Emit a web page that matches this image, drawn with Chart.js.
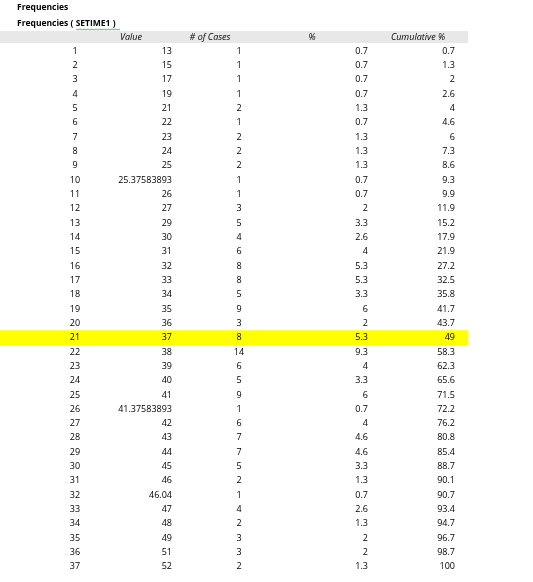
<!DOCTYPE html>
<html><head><meta charset="utf-8">
<script src="https://cdn.jsdelivr.net/npm/chart.js@4"></script>
<style>html,body{margin:0;padding:0;background:#fff}#w{width:533px;height:582px}</style>
</head><body><div id="w"><canvas id="c"></canvas></div>
<script>
const rowLabels = Array.from({length:37},(_,i)=>String(i+1));
const values = ["13","15","17","19","21","22","23","24","25","25.37583893","26","27","29","30","31","32","33","34","35","36","37","38","39","40","41","41.37583893","42","43","44","45","46","46.04","47","48","49","51","52"];
const cases = [1,1,1,1,2,1,2,2,2,1,1,3,5,4,6,8,8,5,9,3,8,14,6,5,9,1,6,7,7,5,2,1,4,2,3,3,2];
const pct = ["0.7","0.7","0.7","0.7","1.3","0.7","1.3","1.3","1.3","0.7","0.7","2","3.3","2.6","4","5.3","5.3","3.3","6","2","5.3","9.3","4","3.3","6","0.7","4","4.6","4.6","3.3","1.3","0.7","2.6","1.3","2","2","1.3"];
const cum = ["0.7","1.3","2","2.6","4","4.6","6","7.3","8.6","9.3","9.9","11.9","15.2","17.9","21.9","27.2","32.5","35.8","41.7","43.7","49","58.3","62.3","65.6","71.5","72.2","76.2","80.8","85.4","88.7","90.1","90.7","93.4","94.7","96.7","98.7","100"];
const headers = ["Value","# of Cases","%","Cumulative %"];
const highlightRow = "21";

const font = '"Open Sans", "Liberation Sans", sans-serif';
const tablePlugin = {
  id:'table',
  beforeDatasetsDraw(chart){
    const ctx=chart.ctx, x=chart.scales.x;
    ctx.save();
    ctx.fillStyle='#e8e8e8';
    ctx.fillRect(x.getPixelForValue(0),31,x.getPixelForValue(468)-x.getPixelForValue(0),12);
    ctx.restore();
  },
  afterDatasetsDraw(chart){
    const ctx=chart.ctx, y=chart.scales.y, x=chart.scales.x;
    ctx.save();
    ctx.fillStyle='#000';
    ctx.textBaseline='middle';
    ctx.font='bold 8.5px '+font;
    ctx.textAlign='left';
    ctx.fillText('Frequencies',17,8);
    ctx.fillText('Frequencies ( SETIME1 )',17,24);
    ctx.strokeStyle='#3a3';ctx.lineWidth=0.8;
    ctx.beginPath();
    for(let px=76;px<121;px+=2){ctx.lineTo(px,29+((px/2)%2?1:0));}
    ctx.stroke();
    ctx.font='italic 9px '+font;
    ctx.textAlign='center';
    const hx=[131,210,312,418];
    headers.forEach((h,i)=>ctx.fillText(h,x.getPixelForValue(hx[i]),37));
    ctx.font='9px '+font;
    rowLabels.forEach((r,i)=>{
      const py=y.getPixelForValue(i);
      ctx.textAlign='center';ctx.fillText(r,x.getPixelForValue(75),py);
      ctx.textAlign='right';ctx.fillText(values[i],x.getPixelForValue(172),py);
      ctx.textAlign='center';ctx.fillText(String(cases[i]),x.getPixelForValue(239),py);
      ctx.textAlign='right';ctx.fillText(pct[i],x.getPixelForValue(368),py);
      ctx.fillText(cum[i],x.getPixelForValue(455),py);
    });
    ctx.restore();
  }
};
new Chart(document.getElementById('c'),{
  type:'bar',
  data:{labels:rowLabels,datasets:[{
    data:rowLabels.map(r=>r===highlightRow?[0,468]:null),
    backgroundColor:'#ffff00',barPercentage:1,categoryPercentage:1,borderWidth:0
  }]},
  options:{indexAxis:'y',responsive:true,maintainAspectRatio:false,animation:false,
    layout:{padding:{top:44,bottom:8,left:0,right:0}},
    plugins:{legend:{display:false},tooltip:{enabled:false}},
    scales:{x:{type:'linear',min:0,max:533,display:false},y:{type:'category',display:false,offset:true}}},
  plugins:[tablePlugin]
});
</script></body></html>
